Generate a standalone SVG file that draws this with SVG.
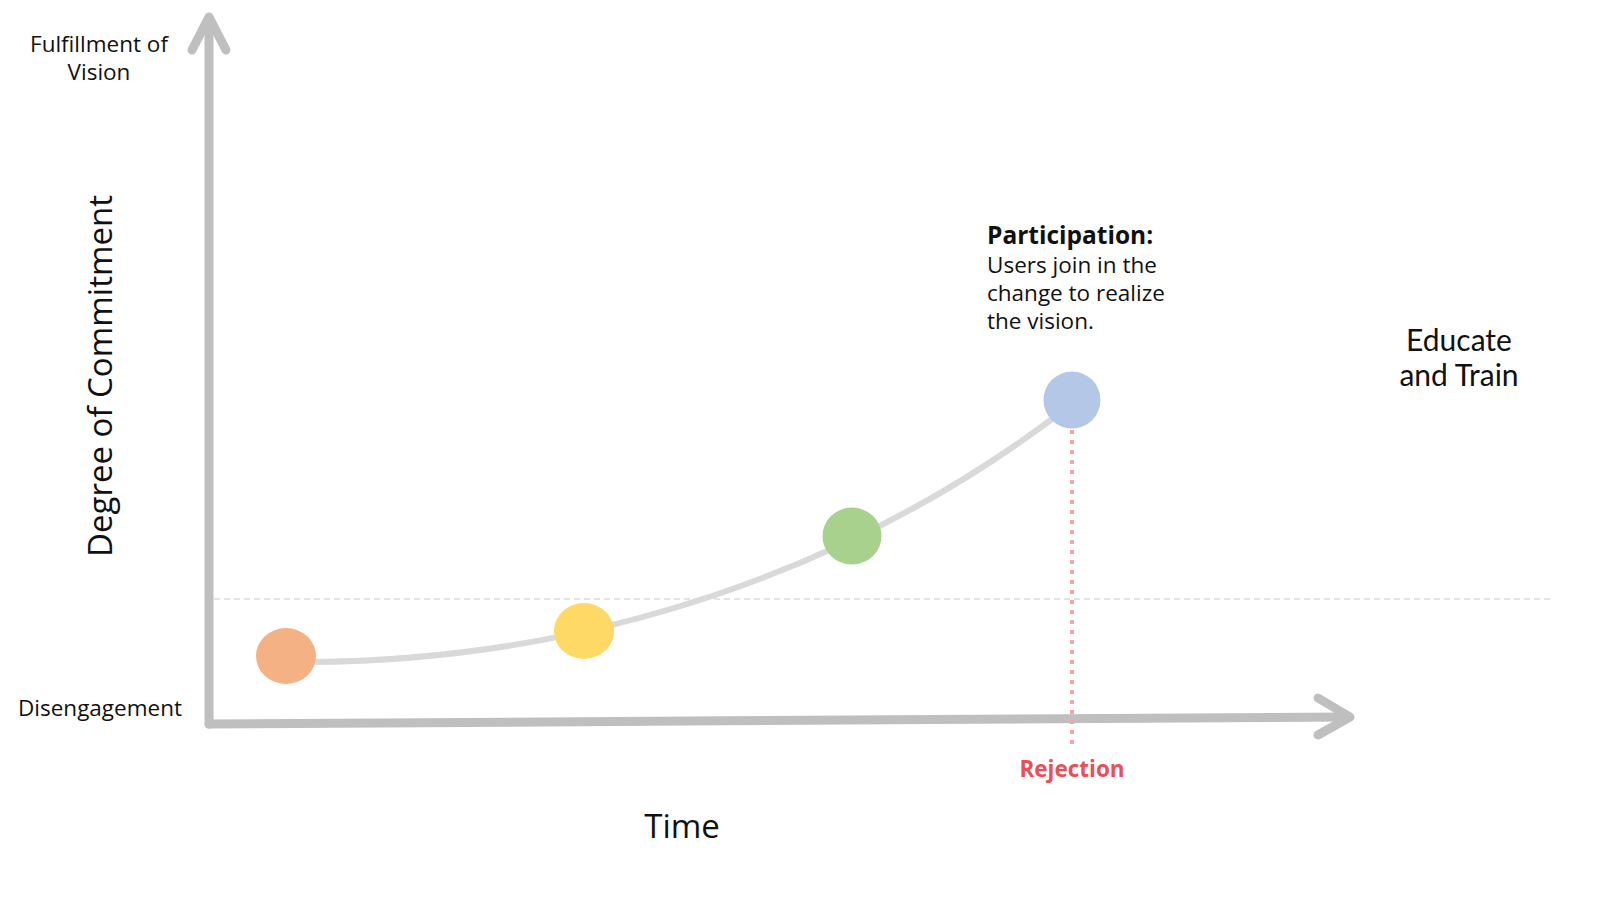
<svg xmlns="http://www.w3.org/2000/svg" width="1600" height="900" viewBox="0 0 1600 900">
<style>
text{font-family:"Open Sans","Noto Sans","Liberation Sans",sans-serif;fill:#111}
.lbl{font-size:22.5px}
.axis{stroke:#bfbfbf;stroke-width:9;fill:none;stroke-linecap:round;stroke-linejoin:round}
</style>
<rect width="1600" height="900" fill="#fff"/>
<g id="connectors">
<line x1="214" y1="599" x2="1550" y2="599" stroke="#c8c8c8" stroke-width="1" stroke-dasharray="6 4"/>
<path class="axis" d="M209 724 L209 18" stroke-linecap="butt"/>
<path class="axis" d="M192 50 L209 17 L226 50"/>
<path class="axis" d="M209 724 L1346 717" stroke-linecap="butt"/>
<path class="axis" d="M1318 698 L1350 717 L1318 735"/>
<path d="M310 662 C600 660 860 565 1060 413" stroke="#d9d9d9" stroke-width="6" fill="none"/>
<line x1="1072" y1="430" x2="1072" y2="745" stroke="#f4a3a6" stroke-width="4" stroke-dasharray="4 6"/>
</g>
<g id="node-orange"><ellipse cx="286" cy="656" rx="30" ry="28" fill="#f4b183"/></g>
<g id="node-yellow"><ellipse cx="584" cy="631" rx="30" ry="28" fill="#ffd966"/></g>
<g id="node-green"><ellipse cx="852" cy="536" rx="29.5" ry="28.5" fill="#a9d18e"/></g>
<g id="node-blue"><ellipse cx="1072" cy="400" rx="28.5" ry="28.5" fill="#b4c7e7"/></g>
<g id="labels">
<text class="lbl" x="99" y="52" text-anchor="middle">Fulfillment of</text>
<text class="lbl" x="99" y="80" text-anchor="middle">Vision</text>
<text class="lbl" x="100" y="716" text-anchor="middle">Disengagement</text>
<text x="112" y="376" font-size="33" text-anchor="middle" transform="rotate(-90 112 376)">Degree of Commitment</text>
<text x="682" y="838" font-size="33" text-anchor="middle">Time</text>
<text x="1459" y="351" font-size="30" text-anchor="middle" style="font-family:Lato,'Open Sans',sans-serif">Educate</text>
<text x="1459" y="386" font-size="30" text-anchor="middle" style="font-family:Lato,'Open Sans',sans-serif">and Train</text>
<text x="987" y="244" font-size="24.5" font-weight="bold">Participation:</text>
<text x="987" y="273" font-size="22.5">Users join in the</text>
<text x="987" y="301" font-size="22.5">change to realize</text>
<text x="987" y="329" font-size="22.5">the vision.</text>
<text x="1072" y="777" font-size="22.5" font-weight="bold" text-anchor="middle" style="fill:#ea4f57">Rejection</text>
</g>
</svg>
